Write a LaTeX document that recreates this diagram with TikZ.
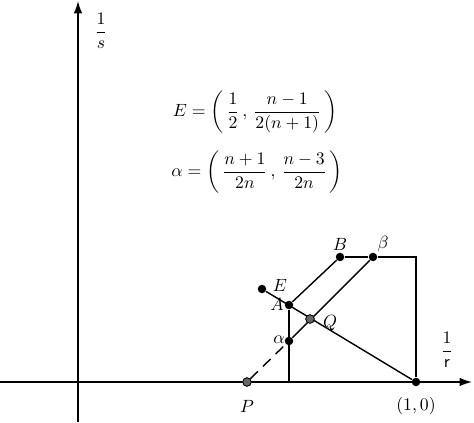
\documentclass[tikz,border=0pt]{standalone}
\usepackage{amsmath}
\usetikzlibrary{arrows.meta}
\begin{document}
\begin{tikzpicture}[x=0.565pt,y=-0.565pt,
  axis/.style={line width=0.8pt,-{Latex[length=7pt,width=4.8pt]}},
  seg/.style={line width=0.8pt},
  bdot/.style={circle,fill=black,inner sep=0pt,minimum size=4.8pt},
  gdot/.style={circle,fill=black!60,draw=black,line width=0.4pt,inner sep=0pt,minimum size=4.8pt},
  lbl/.style={inner sep=1pt}]
\useasboundingbox (0,0) rectangle (474,422);
% axes
\coordinate (xl) at (0,382);
\coordinate (xr) at (472,382);
\coordinate (yb) at (78,422);
\coordinate (yt) at (78,1);
\draw[axis] (xl) -- (xr);
\draw[axis] (yb) -- (yt);
% points
\node[gdot] (P) at (247,382) {};
\node[bdot] (O) at (416,382) {};
\coordinate (F) at (289,382);
\node[bdot] (E) at (262,289) {};
\node[bdot] (A) at (289,305) {};
\node[gdot] (Q) at (310,319) {};
\node[bdot] (al) at (289,341) {};
\node[bdot] (B) at (340,257) {};
\node[bdot] (be) at (373,257) {};
\coordinate (C) at (416,257);
% segments
\draw[seg] (E) -- (O);
\draw[seg] (F) -- (A);
\draw[seg] (A) -- (B);
\draw[seg] (B) -- (be) -- (C) -- (O);
\draw[seg,dashed,dash pattern=on 6pt off 4pt] (P) -- (al);
\draw[seg] (al) -- (be);
\node[gdot] at (Q) {};
\node[gdot] at (P) {};
% labels
\node[lbl] (lE) at (280,285) {$E$};
\node[lbl] (lA) at (277,304) {$A$};
\node[lbl] (lQ) at (330,323) {$Q$};
\node[lbl] (lal) at (279,340) {$\alpha$};
\node[lbl] (lB) at (340,244) {$B$};
\node[lbl] (lbe) at (383,244) {$\beta$};
\node[lbl] (lP) at (247,406) {$P$};
\node[lbl] (lO) at (416,406) {$(1,0)$};
\node[lbl] (ls) at (101,31) {$\dfrac{1}{s}$};
\node[lbl] (lr) at (447,350) {$\dfrac{1}{\mathsf{r}}$};
\node[lbl] (eqE) at (255,112) {$E=\left(\,\dfrac{1}{2}\,,\,\dfrac{n-1}{2(n+1)}\,\right)$};
\node[lbl] (eqa) at (257,172) {$\alpha=\left(\,\dfrac{n+1}{2n}\,,\,\dfrac{n-3}{2n}\,\right)$};
\end{tikzpicture}
\end{document}
